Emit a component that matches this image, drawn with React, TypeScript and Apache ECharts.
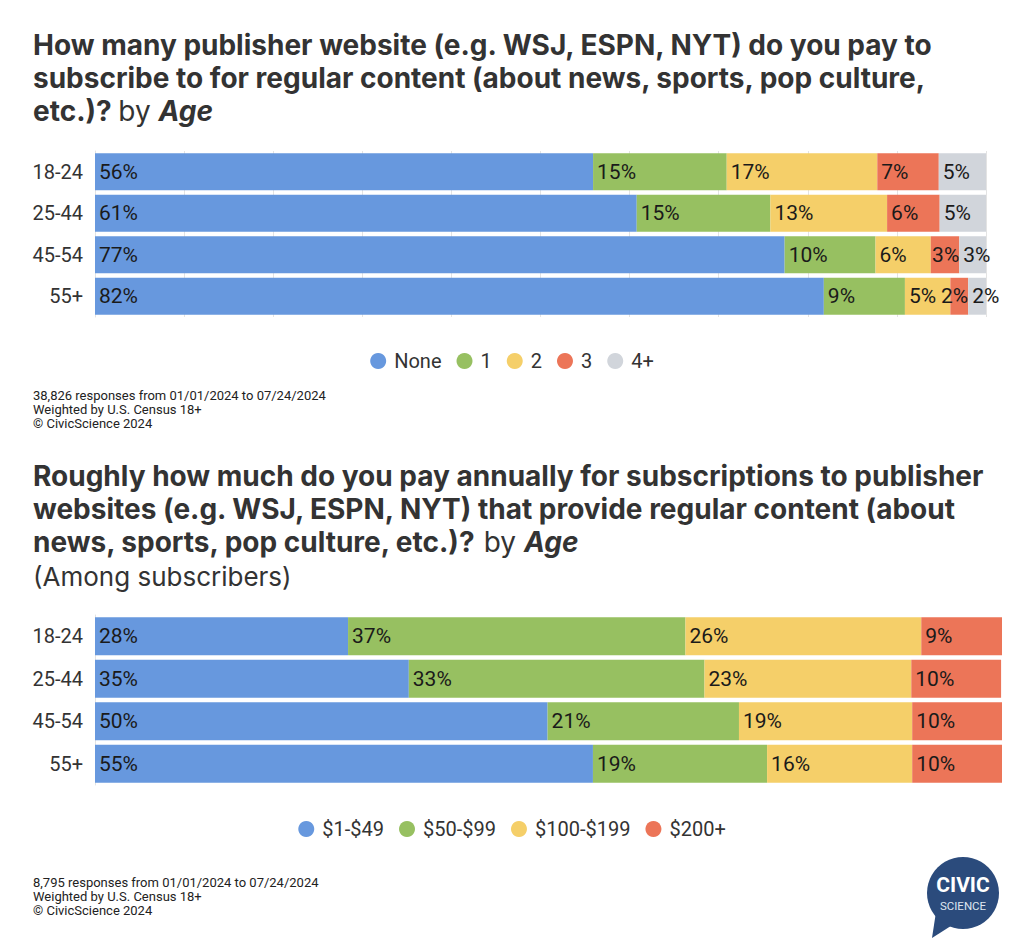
import React, { useEffect, useRef } from "react";
import * as echarts from "echarts";

const ages = ["18-24", "25-44", "45-54", "55+"];

// Chart 1: number of publisher subscriptions
const countNames = ["None", "1", "2", "3", "4+"];
const countNone = [55.9, 60.8, 77.4, 81.8];
const countOne = [15.0, 15.0, 10.2, 9.1];
const countTwo = [16.9, 13.1, 6.2, 5.1];
const countThree = [6.9, 5.9, 3.2, 2.0];
const countFourPlus = [5.3, 5.2, 3.0, 2.0];

// Chart 2: annual spend among subscribers
const spendNames = ["$1-$49", "$50-$99", "$100-$199", "$200+"];
const spend1to49 = [27.9, 34.6, 49.9, 54.9];
const spend50to99 = [37.2, 32.6, 21.1, 19.2];
const spend100to199 = [26.0, 22.8, 19.1, 16.0];
const spend200plus = [8.9, 9.9, 9.9, 9.9];

const COLORS5 = ["#6798DE", "#97C061", "#F5CF69", "#EC7558", "#D1D5DB"];
const COLORS4 = ["#6798DE", "#97C061", "#F5CF69", "#EC7558"];

const FONT = "Roboto, 'Noto Sans', sans-serif";
const TFONT = "Inter, Roboto, sans-serif";

export default function App() {
  const ref = useRef<HTMLDivElement>(null);

  useEffect(() => {
    if (!ref.current) return;
    const chart = echarts.init(ref.current, null, { renderer: "svg" });

    const labelCfg = (size: number) => ({
      show: true,
      position: "insideLeft" as const,
      distance: 4,
      color: "#1a1a1a",
      fontSize: size,
      fontFamily: FONT,
      formatter: (p: any) => Math.round(p.value) + "%",
    });

    const countData = [countNone, countOne, countTwo, countThree, countFourPlus];
    const spendData = [spend1to49, spend50to99, spend100to199, spend200plus];

    // keep a label inside its own segment's right end when the segment is narrow
    // (except the last segment of a stack, whose label may run past the bar)
    const fitLabel = (isLast: boolean) => (params: any) => {
      if (isLast) return {};
      const r = params.rect;
      const l = params.labelRect;
      const overflow = l.x + l.width - (r.x + r.width);
      if (overflow > 0) return { dx: -overflow };
      return {};
    };

    const series: any[] = [];
    countNames.forEach((name, i) => {
      series.push({
        name,
        type: "bar",
        stack: "count",
        xAxisIndex: 0,
        yAxisIndex: 0,
        data: countData[i],
        barCategoryGap: "11%",
        itemStyle: { color: COLORS5[i] },
        label: labelCfg(21),
        labelLayout: fitLabel(i === countNames.length - 1),
        emphasis: { disabled: true },
      });
    });
    spendNames.forEach((name, i) => {
      series.push({
        name,
        type: "bar",
        stack: "spend",
        xAxisIndex: 1,
        yAxisIndex: 1,
        data: spendData[i],
        barCategoryGap: "11%",
        itemStyle: { color: COLORS4[i] },
        label: labelCfg(21),
        emphasis: { disabled: true },
      });
    });

    const titleRich = {
      b: { fontSize: 28, fontWeight: "bold", color: "#333", lineHeight: 33, fontFamily: TFONT },
      n: { fontSize: 28, fontWeight: "normal", color: "#333", lineHeight: 33, fontFamily: TFONT },
      bi: { fontSize: 28, fontWeight: "bold", fontStyle: "italic", color: "#333", lineHeight: 33, fontFamily: TFONT },
      s: { fontSize: 26, fontWeight: "normal", color: "#333", lineHeight: 36, fontFamily: TFONT },
    };

    const footStyle = { fontSize: 13, fill: "#222", fontFamily: FONT, lineHeight: 14 };

    const legendBase = {
      left: "center",
      icon: "circle",
      itemWidth: 16,
      itemHeight: 16,
      itemGap: 15,
      selectedMode: false,
      textStyle: { fontSize: 20, color: "#333", fontFamily: FONT, padding: [0, 0, 0, 3] },
    };

    chart.setOption({
      animation: false,
      backgroundColor: "#ffffff",
      title: [
        {
          left: 28,
          top: 23,
          text:
            "{b|How many publisher website (e.g. WSJ, ESPN, NYT) do you pay to}\n" +
            "{b|subscribe to for regular content (about news, sports, pop culture,}\n" +
            "{b|etc.)? }{n|by }{bi|Age}",
          textStyle: { rich: titleRich },
        },
        {
          left: 28,
          top: 454,
          text:
            "{b|Roughly how much do you pay annually for subscriptions to publisher}\n" +
            "{b|websites (e.g. WSJ, ESPN, NYT) that provide regular content (about}\n" +
            "{b|news, sports, pop culture, etc.)? }{n|by }{bi|Age}\n" +
            "{s|(Among subscribers)}",
          textStyle: { rich: titleRich },
        },
      ],
      legend: [
        { ...legendBase, data: countNames, top: 346 },
        { ...legendBase, data: spendNames, top: 814 },
      ],
      grid: [
        { left: 95, right: 38, top: 151, height: 166 },
        { left: 95, right: 22, top: 615, height: 170 },
      ],
      xAxis: [
        {
          gridIndex: 0,
          type: "value",
          min: 0,
          max: 100,
          interval: 10,
          axisLabel: { show: false },
          axisLine: { show: false },
          axisTick: { show: false },
          splitLine: { show: true, lineStyle: { color: "#e3e3e3", width: 1 } },
        },
        {
          gridIndex: 1,
          type: "value",
          min: 0,
          max: 100,
          interval: 10,
          axisLabel: { show: false },
          axisLine: { show: false },
          axisTick: { show: false },
          splitLine: { show: false },
        },
      ],
      yAxis: [
        {
          gridIndex: 0,
          type: "category",
          data: ages,
          inverse: true,
          axisLine: { show: true, lineStyle: { color: "#e3e3e3" } },
          axisTick: { show: false },
          axisLabel: { fontSize: 20, color: "#333", margin: 12, fontFamily: FONT },
        },
        {
          gridIndex: 1,
          type: "category",
          data: ages,
          inverse: true,
          axisLine: { show: true, lineStyle: { color: "#e3e3e3" } },
          axisTick: { show: false },
          axisLabel: { fontSize: 20, color: "#333", margin: 12, fontFamily: FONT },
        },
      ],
      series,
      graphic: [
        {
          type: "text",
          left: 33,
          top: 388,
          style: {
            ...footStyle,
            text: "38,826 responses from 01/01/2024 to 07/24/2024\nWeighted by U.S. Census 18+\n© CivicScience 2024",
          },
        },
        {
          type: "text",
          left: 33,
          top: 875,
          style: {
            ...footStyle,
            text: "8,795 responses from 01/01/2024 to 07/24/2024\nWeighted by U.S. Census 18+\n© CivicScience 2024",
          },
        },
        {
          type: "polygon",
          shape: { points: [[936, 912], [954, 924], [932, 938]] },
          style: { fill: "#2B4B7C" },
        },
        {
          type: "circle",
          shape: { cx: 963, cy: 893, r: 36 },
          style: { fill: "#2B4B7C" },
        },
        {
          type: "text",
          x: 963,
          y: 885,
          style: {
            text: "CIVIC",
            fill: "#ffffff",
            fontSize: 21,
            fontWeight: "bold",
            fontFamily: FONT,
            align: "center",
            verticalAlign: "middle",
          },
        },
        {
          type: "text",
          x: 963,
          y: 906,
          style: {
            text: "SCIENCE",
            fill: "#dfe6f0",
            fontSize: 11.5,
            fontFamily: FONT,
            align: "center",
            verticalAlign: "middle",
          },
        },
      ],
    });

    return () => chart.dispose();
  }, []);

  return (
    <div
      ref={ref}
      style={{ position: "fixed", left: 0, top: 0, width: 1024, height: 944, background: "#fff" }}
    />
  );
}
